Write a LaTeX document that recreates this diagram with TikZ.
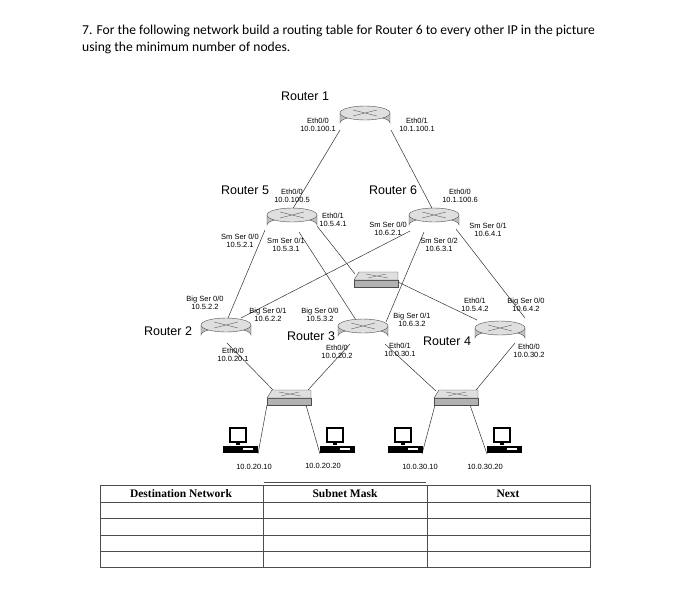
\documentclass[tikz,border=0pt]{standalone}
\usepackage{fontspec}
\setmainfont{Liberation Sans}
\newfontfamily\titlefnt{Carlito}
\newfontfamily\tms{Liberation Serif}
\begin{document}
\begin{tikzpicture}[x=1pt,y=-1pt,
  lbl/.style={font=\fontsize{7.5}{8.5}\selectfont,align=center,inner sep=0pt},
  rname/.style={font=\fontsize{12.5}{14}\selectfont,inner sep=0pt},
  link/.style={draw=black!80,line width=0.5pt},
  hdr/.style={font=\tms\bfseries\fontsize{11.5}{12}\selectfont,inner sep=0pt}]
\useasboundingbox (0,0) rectangle (700,590);
\fill[white] (0,0) rectangle (700,590);
\newcommand{\myrouter}[3]{%
  \fill[gray!50,draw=black!70] (#2-25,#3-5) -- (#2-25,#3+5) arc[start angle=180,end angle=360,x radius=25,y radius=7] -- (#2+25,#3-5) -- cycle;
  \fill[gray!25,draw=black!70] (#2,#3-5) ellipse[x radius=25,y radius=7];
  \draw[black!60,line width=0.4pt] (#2-12,#3-8)--(#2+12,#3-2) (#2-12,#3-2)--(#2+12,#3-8);
  \node[inner sep=0pt,minimum width=50pt,minimum height=24pt] (#1) at (#2,#3) {};}
\newcommand{\myswitch}[3]{%
  \fill[gray!60,draw=black!70] (#2-22,#3) rectangle (#2+22,#3+7);
  \fill[gray!25,draw=black!70] (#2-22,#3) -- (#2-17,#3-8) -- (#2+22,#3-8) -- (#2+22,#3) -- cycle;
  \draw[black!60,line width=0.4pt] (#2-10,#3-6)--(#2+12,#3-2) (#2-8,#3-2)--(#2+10,#3-6);
  \node[inner sep=0pt,minimum width=44pt,minimum height=16pt] (#1) at (#2,#3) {};}
\newcommand{\mypc}[3]{%
  \draw[black,line width=1.3pt,fill=white] (#2-10,#3-14) rectangle (#2+6,#3);
  \fill[black] (#2-4,#3) rectangle (#2,#3+3);
  \fill[black] (#2-17,#3+4) rectangle (#2+18,#3+11);
  \fill[white] (#2+3,#3+6) rectangle (#2+13,#3+8);
  \node[inner sep=0pt,minimum width=35pt,minimum height=25pt] (#1) at (#2,#3) {};}
% title
\node[anchor=west,font=\titlefnt\fontsize{13.6}{15}\selectfont,inner sep=0pt] (t1) at (82,31) {7. For the following network build a routing table for Router 6 to every other IP in the picture};
\node[anchor=west,font=\titlefnt\fontsize{13.6}{15}\selectfont,inner sep=0pt] (t2) at (82,48) {using the minimum number of nodes.};
% links first
\coordinate (a1) at (340,130); \coordinate (a5) at (292,210);
\draw[link] (a1)--(a5);
\coordinate (b1) at (391,130); \coordinate (b6) at (434,212);
\draw[link] (b1)--(b6);
\coordinate (c5) at (265,230); \coordinate (c2) at (228,318);
\draw[link] (c5)--(c2);
\coordinate (d5) at (299,232); \coordinate (d3) at (356,320);
\draw[link] (d5)--(d3);
\coordinate (e5) at (317,226); \coordinate (es) at (355,274);
\draw[link] (e5)--(es);
\coordinate (f6) at (410,231); \coordinate (f2) at (241,318);
\draw[link] (f6)--(f2);
\coordinate (g6) at (424,232); \coordinate (g3) at (386,322);
\draw[link] (g6)--(g3);
\coordinate (h6) at (456,229); \coordinate (h4) at (525,318);
\draw[link] (h6)--(h4);
\coordinate (is) at (398,282); \coordinate (i4) at (477,320);
\draw[link] (is)--(i4);
\coordinate (j2) at (227,343); \coordinate (jl) at (275,392);
\draw[link] (j2)--(jl);
\coordinate (k3) at (350,344); \coordinate (kl) at (308,390);
\draw[link] (k3)--(kl);
\coordinate (l3) at (385,344); \coordinate (lr) at (436,391);
\draw[link] (l3)--(lr);
\coordinate (m4) at (515,343); \coordinate (mr) at (476,390);
\draw[link] (m4)--(mr);
\coordinate (n1) at (267,405); \coordinate (p1) at (258,454);
\draw[link] (n1)--(p1);
\coordinate (n2) at (306,405); \coordinate (p2) at (320,454);
\draw[link] (n2)--(p2);
\coordinate (n3) at (435,405); \coordinate (p3) at (422,454);
\draw[link] (n3)--(p3);
\coordinate (n4) at (470,405); \coordinate (p4) at (487,454);
\draw[link] (n4)--(p4);
% devices
\myrouter{r1}{365}{118}
\myrouter{r5}{292}{220}
\myrouter{r6}{434}{220}
\myrouter{r2}{226}{330}
\myrouter{r3}{363}{331}
\myrouter{r4}{500}{333}
\myswitch{s0}{376}{280}
\myswitch{sl}{289}{398}
\myswitch{sr}{456}{398}
\mypc{pc1}{240}{442}
\mypc{pc2}{337}{442}
\mypc{pc3}{405}{442}
\mypc{pc4}{504}{442}
% names
\node[rname] (n_r1) at (305,96) {Router 1};
\node[rname] (n_r5) at (245,190) {Router 5};
\node[rname] (n_r6) at (393,190) {Router 6};
\node[rname] (n_r2) at (168,331) {Router 2};
\node[rname] (n_r3) at (311,336) {Router 3};
\node[rname] (n_r4) at (447,341) {Router 4};
% labels
\node[lbl] (l1) at (318,125) {Eth0/0\\10.0.100.1};
\node[lbl] (l2) at (417,125) {Eth0/1\\10.1.100.1};
\node[lbl] (l3) at (292,196) {Eth0/0\\10.0.100.5};
\node[lbl] (l4) at (333,220) {Eth0/1\\10.5.4.1};
\node[lbl] (l5) at (240,241) {Sm Ser 0/0\\10.5.2.1};
\node[lbl] (l6) at (286,245) {Sm Ser 0/1\\10.5.3.1};
\node[lbl] (l7) at (388,229) {Sm Ser 0/0\\10.6.2.1};
\node[lbl] (l8) at (460,196) {Eth0/0\\10.1.100.6};
\node[lbl] (l9) at (439,245) {Sm Ser 0/2\\10.6.3.1};
\node[lbl] (l10) at (488,230) {Sm Ser 0/1\\10.6.4.1};
\node[lbl] (l11) at (205,303) {Big Ser 0/0\\10.5.2.2};
\node[lbl] (l12) at (268,315) {Big Ser 0/1\\10.6.2.2};
\node[lbl] (l13) at (320,315) {Big Ser 0/0\\10.5.3.2};
\node[lbl] (l14) at (412,320) {Big Ser 0/1\\10.6.3.2};
\node[lbl] (l15) at (475,305) {Eth0/1\\10.5.4.2};
\node[lbl] (l16) at (526,305) {Big Ser 0/0\\10.6.4.2};
\node[lbl] (l17) at (233,355) {Eth0/0\\10.0.20.1};
\node[lbl] (l18) at (337,352) {Eth0/0\\10.0.20.2};
\node[lbl] (l19) at (400,350) {Eth0/1\\10.0.30.1};
\node[lbl] (l20) at (529,351) {Eth0/0\\10.0.30.2};
\node[lbl] (l21) at (254,467) {10.0.20.10};
\node[lbl] (l22) at (323,466) {10.0.20.20};
\node[lbl] (l23) at (420,467) {10.0.30.10};
\node[lbl] (l24) at (485,467) {10.0.30.20};
% table
\draw[black!70,line width=1pt] (264,482)--(426,482);
\draw[black!70,line width=0.6pt] (100,485) rectangle (590,567);
\foreach \yy in {502,518,535,551} \draw[black!70,line width=0.6pt] (100,\yy)--(590,\yy);
\draw[black!70,line width=0.6pt] (263,485)--(263,567) (427,485)--(427,567);
\node[hdr] (h1) at (181,494) {Destination Network};
\node[hdr] (h2) at (345,494) {Subnet Mask};
\node[hdr] (h3) at (508,494) {Next};
\end{tikzpicture}
\end{document}
